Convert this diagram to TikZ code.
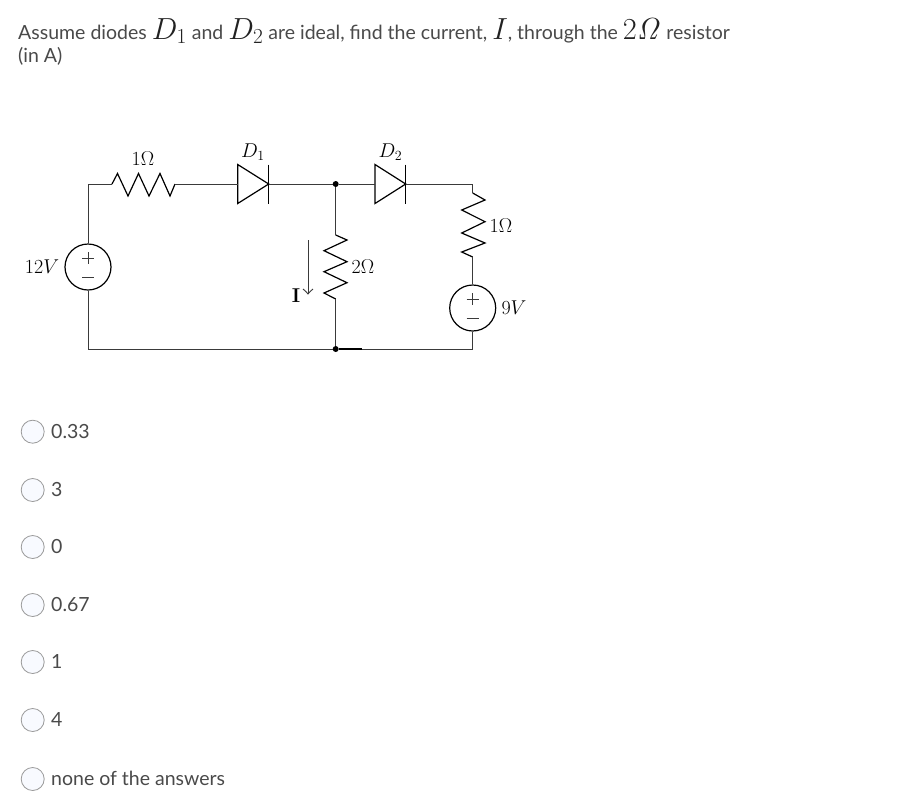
\RequirePackage{fix-cm}
\documentclass[tikz,border=0pt]{standalone}
\usepackage[no-math]{fontspec}
\usetikzlibrary{calc}
\setmainfont{Lato}
\definecolor{txt}{HTML}{4A4A4A}
\definecolor{mathc}{HTML}{222222}
\definecolor{radiofill}{HTML}{F8FAFF}
\definecolor{radioline}{HTML}{9A9A9A}
\definecolor{wirec}{HTML}{3A3A3A}
\tikzset{
  wire/.style={draw=wirec,line width=0.9pt},
  part/.style={draw=black,line width=1.2pt,line join=miter},
  srcbox/.style={circle,draw=black,line width=1.2pt,minimum size=46pt,inner sep=0pt,fill=white},
  dot/.style={circle,fill=black,minimum size=6pt,inner sep=0pt},
  lab/.style={inner sep=0pt,font=\fontsize{20}{22}\selectfont},
  para/.style={anchor=base west,inner sep=0pt,text=txt,font=\fontsize{19.5}{22}\selectfont},
  opt/.style={anchor=base west,inner sep=0pt,text=txt,font=\fontsize{19.5}{22}\selectfont},
  radio/.style={circle,draw=radioline,fill=radiofill,line width=0.8pt,minimum size=23pt,inner sep=0pt},
}
\newcommand{\largemath}[1]{{\color{mathc}\fontsize{30.5}{32}\selectfont$#1$}}
\begin{document}
\begin{tikzpicture}[x=1pt,y=-1pt]
\useasboundingbox[fill=white] (0,0) rectangle (918,804);

% question
\node[para] (q1) at (18,39) {Assume diodes \largemath{D_1} and \largemath{D_2} are ideal, find the current, \largemath{I}, through the \largemath{2\mathit{\Omega}} resistor};
\node[para] (q2) at (18,62) {(in A)};

% corners and junctions
\coordinate (tl) at (88,184);
\coordinate (tr) at (472.7,184);
\coordinate (bl) at (88,349);
\coordinate (br) at (472.7,349);
\coordinate (stub) at (362,349);
\node[dot] (top) at (335.7,184) {};
\node[dot] (bot) at (335.7,349) {};

% sources
\node[srcbox] (s12) at (88,267) {};
\node[srcbox] (s9) at (472.7,308) {};
\foreach \s in {s12,s9}{
  \draw[wirec,line width=0.7pt] ($(\s)+(-6,-9)$) -- ($(\s)+(6,-9)$) ($(\s)+(0,-15)$) -- ($(\s)+(0,-3)$) ($(\s)+(-6,10)$) -- ($(\s)+(6,10)$);
}

% resistors
\coordinate (r1a) at (112,184); \coordinate (r1b) at (175,184);
\coordinate (r2a) at (335.7,235); \coordinate (r2b) at (335.7,299);
\coordinate (r3a) at (472.7,193); \coordinate (r3b) at (472.7,257);
\draw[part] (r1a) -- (117.5,173.5) -- (128,196) -- (138.5,173.5) -- (149,196) -- (160,173.5) -- (170,196) -- (r1b);
\draw[part] (r2a) -- (347,240) -- (324,250.7) -- (347,261.7) -- (324,271.7) -- (347,282.7) -- (324,293) -- (r2b);
\draw[part] (r3a) -- (485,200) -- (461.7,210) -- (485,221.7) -- (461.7,233) -- (485,243) -- (461.7,252) -- (r3b);

% diodes
\coordinate (d1a) at (237.7,184); \coordinate (d1k) at (268.7,184);
\coordinate (d2a) at (375,184); \coordinate (d2k) at (405.7,184);
\draw[part] (d1a) ++(0,-19.5) -- ++(0,39) -- (d1k) -- cycle;
\draw[part] (d1k) ++(0,-19.5) -- ++(0,39);
\draw[part] (d2a) ++(0,-19.5) -- ++(0,39) -- (d2k) -- cycle;
\draw[part] (d2k) ++(0,-19.5) -- ++(0,39);

% wires
\draw[wire] (s12.north) -- (tl) -- (r1a);
\draw[wire] (r1b) -- (d1a);
\draw[wire] (d1k) -- (top) -- (d2a);
\draw[wire] (d2k) -- (tr) -- (r3a);
\draw[wire] (r3b) -- (s9.north);
\draw[wire] (s9.south) -- (br) -- (bot) -- (bl) -- (s12.south);
\draw[wire] (top) -- (r2a);
\draw[wire] (r2b) -- (bot);
\draw[draw=black,line width=1.1pt] (bot) -- (stub);

% current arrow
\coordinate (ia) at (308,240);
\coordinate (ib) at (308,294);
\draw[wirec,line width=0.9pt] (ia) -- (ib);
\draw[wirec,line width=0.9pt] (303,289) .. controls (305,291) and (307,292) .. (ib) .. controls (309,292) and (311,291) .. (313,289);

% labels
\node[lab] (l1) at (143,159) {$1\Omega$};
\node[lab] (ld1) at (253,152) {$D_1$};
\node[lab] (ld2) at (390.5,152) {$D_2$};
\node[lab] (l12) at (42,267) {$12V$};
\node[lab] (l2) at (363,267) {$2\Omega$};
\node[lab] (l3) at (501,226) {$1\Omega$};
\node[lab] (l9) at (514,308) {$9V$};
\node[lab] (li) at (296,296) {$\mathbf{I}$};

% answers
\node[radio] (a1) at (32.7,431.7) {};
\node[radio] (a2) at (32.7,490) {};
\node[radio] (a3) at (32.7,547) {};
\node[radio] (a4) at (32.7,605) {};
\node[radio] (a5) at (32.7,662) {};
\node[radio] (a6) at (32.7,720) {};
\node[radio] (a7) at (32.7,779) {};
\node[opt] (t1) at (51,438) {0.33};
\node[opt] (t2) at (51,496) {3};
\node[opt] (t3) at (51,553.5) {0};
\node[opt] (t4) at (51,611.7) {0.67};
\node[opt] (t5) at (51,668.7) {1};
\node[opt] (t6) at (51,726.7) {4};
\node[opt] (t7) at (51,785.7) {none of the answers};
\end{tikzpicture}
\end{document}
